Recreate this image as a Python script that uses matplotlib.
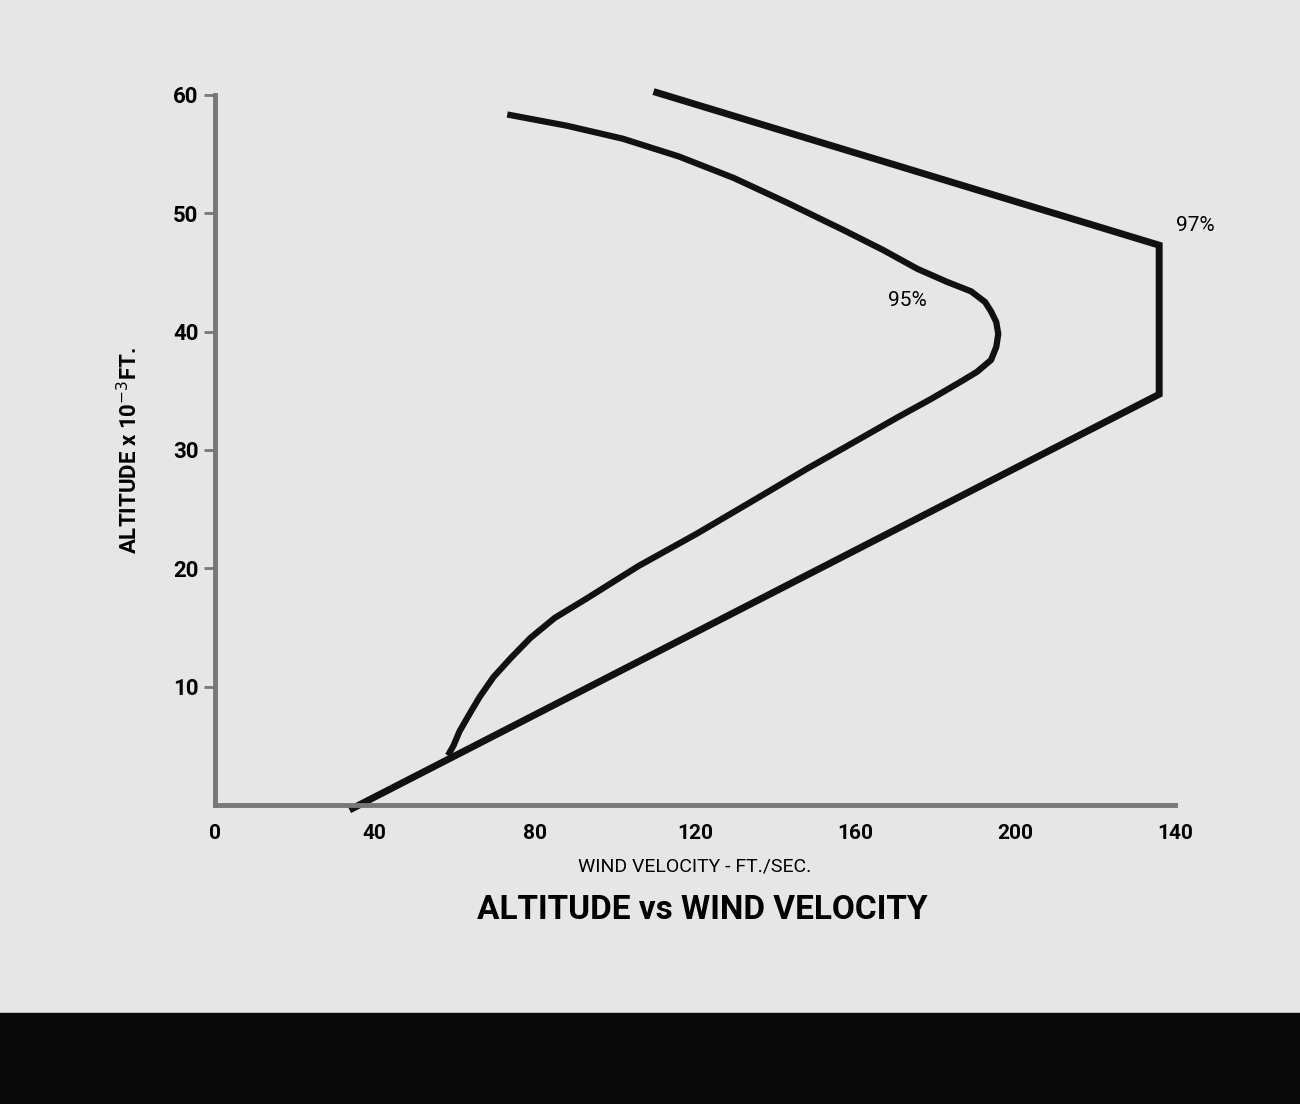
import matplotlib
matplotlib.use("Agg")
import matplotlib.pyplot as plt

x_ticks = [0, 40, 80, 120, 160, 200, 240]
x_tick_labels = ["0", "40", "80", "120", "160", "200", "140"]
y_ticks = [10, 20, 30, 40, 50, 60]

v97 = [110.5, 236, 236, 34.5]
a97 = [60.2, 47.3, 34.7, -0.3]

v95 = [73.9, 88, 102, 116, 129.6, 143, 157, 167, 175.6, 183, 189, 192.5, 194, 195.3, 195.8, 195.3,
       194, 190.5, 186.6, 179, 170.9, 160, 148, 134, 120.4, 106, 92.8, 85, 78.9, 74, 69.7, 66.2,
       63.4, 61.2, 59.7, 58.7]
a95 = [58.3, 57.4, 56.3, 54.8, 53.0, 50.9, 48.6, 46.9, 45.3, 44.2, 43.4, 42.5, 41.7, 40.8, 39.8, 38.7,
       37.6, 36.6, 35.8, 34.3, 32.8, 30.7, 28.4, 25.6, 22.9, 20.2, 17.4, 15.8, 14.1, 12.4, 10.8, 9.1,
       7.5, 6.2, 5.0, 4.4]

plt.rcParams['font.family'] = ['Roboto', 'DejaVu Sans']
fig = plt.figure(figsize=(13, 11.04), dpi=100)
fig.patch.set_facecolor('white')
fig.add_artist(plt.Rectangle((0.0, 0.08), 1.0, 0.92, transform=fig.transFigure, color='#e6e6e6', zorder=0))
fig.add_artist(plt.Rectangle((0.0, 0.0), 1.0, 0.082, transform=fig.transFigure, color='#0a0a0a', zorder=0))

ax = fig.add_axes([0.165, 0.271, 0.739, 0.643])
ax.set_facecolor('none')
ax.set_xlim(0, 240)
ax.set_ylim(0, 60)
ax.plot(v97, a97, color='#111111', lw=5, clip_on=False, solid_joinstyle='miter')
ax.plot(v95, a95, color='#111111', lw=4.5, clip_on=False, solid_joinstyle='round')
for s in ['top', 'right']:
    ax.spines[s].set_visible(False)
for s in ['left', 'bottom']:
    ax.spines[s].set_color('#777777')
    ax.spines[s].set_linewidth(3.5)
ax.set_xticks(x_ticks)
ax.set_xticklabels(x_tick_labels)
ax.set_yticks(y_ticks)
ax.tick_params(axis='x', length=0, pad=14, labelsize=15)
ax.tick_params(axis='y', length=8, width=2, color='#777777', labelsize=16)
for t in ax.get_xticklabels() + ax.get_yticklabels():
    t.set_fontweight('bold')
ax.text(173, 42.2, "95%", fontsize=15, ha='center')
ax.text(245, 48.5, "97%", fontsize=15, ha='center')
ax.set_xlabel("WIND VELOCITY - FT./SEC.", fontsize=14, labelpad=10)
ax.set_ylabel("ALTITUDE x 10$^{-3}$FT.", fontsize=16, fontweight='bold', labelpad=22)
fig.text(0.54, 0.168, "ALTITUDE vs WIND VELOCITY", fontsize=24, fontweight='bold', ha='center')
fig.savefig("out.png", dpi=100)
